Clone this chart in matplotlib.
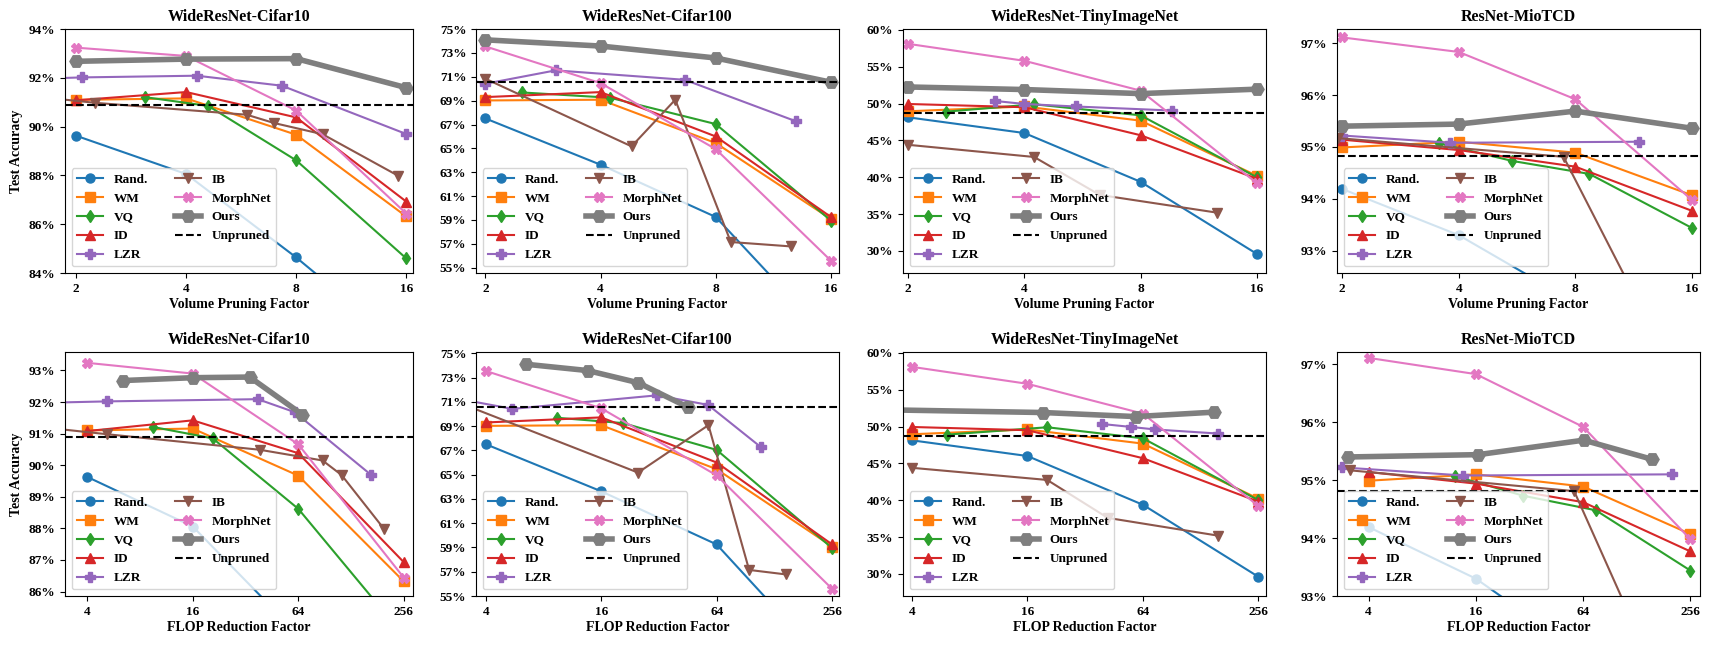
import matplotlib
matplotlib.use("Agg")
import matplotlib.pyplot as plt
from matplotlib.ticker import PercentFormatter, FixedLocator, FixedFormatter, NullLocator

METHODS = ["Rand.", "WM", "VQ", "ID", "LZR", "IB", "MorphNet", "Ours"]

# --- WideResNet-Cifar10 ---
C10_ACC = {
    "Rand.": [89.63, 88.06, 84.64, 80.9],
    "WM": [91.1, 91.16, 89.67, 86.32],
    "VQ": [91.21, 90.85, 88.62, 84.6],
    "ID": [91.08, 91.42, 90.38, 86.93],
    "LZR": [91.98, 92.02, 92.09, 91.68, 89.7],
    "IB": [91.17, 90.98, 90.49, 90.15, 89.69, 87.99],
    "MorphNet": [93.24, 92.9, 90.66, 86.44],
    "Ours": [92.68, 92.77, 92.79, 91.6],
}
C10_VOL = {
    "Rand.": [2, 4, 8, 16],
    "WM": [2, 4, 8, 16],
    "VQ": [3.09, 4.6, 8, 16],
    "ID": [2, 4, 8, 16],
    "LZR": [1.7, 2.07, 4.28, 7.31, 16],
    "IB": [1.7, 2.25, 5.86, 6.96, 9.45, 15.2],
    "MorphNet": [2, 4, 8, 16],
    "Ours": [2, 4, 8, 16],
}
C10_FLOP = {
    "Rand.": [4, 16, 64, 256],
    "WM": [4, 16, 64, 256],
    "VQ": [9.5, 20.8, 64, 256],
    "ID": [4, 16, 64, 256],
    "LZR": [2.5, 5.2, 37.6, 61, 166],
    "IB": [2.5, 5.2, 38.5, 88, 113, 197],
    "MorphNet": [4, 16, 64, 256],
    "Ours": [6.4, 16, 33.8, 67.6],
}
C10_UNPRUNED = 90.9

# --- WideResNet-Cifar100 ---
C100_ACC = {
    "Rand.": [67.51, 63.63, 59.25, 48.9],
    "WM": [69.02, 69.08, 65.45, 59.08],
    "VQ": [69.69, 69.25, 67.04, 58.95],
    "ID": [69.3, 69.72, 66.0, 59.25],
    "LZR": [71.2, 70.42, 71.54, 70.75, 67.26],
    "IB": [70.84, 65.17, 69.08, 57.15, 56.78],
    "MorphNet": [73.55, 70.47, 64.94, 55.59],
    "Ours": [74.1, 73.58, 72.58, 70.55],
}
C100_VOL = {
    "Rand.": [2, 4, 8, 16],
    "WM": [2, 4, 8, 16],
    "VQ": [2.49, 4.23, 8, 16],
    "ID": [2, 4, 8, 16],
    "LZR": [1.6, 2, 3.05, 6.64, 13.0],
    "IB": [2, 4.82, 6.27, 8.76, 12.6],
    "MorphNet": [2, 4, 8, 16],
    "Ours": [2, 4, 8, 16],
}
C100_FLOP = {
    "Rand.": [4, 16, 64, 256],
    "WM": [4, 16, 64, 256],
    "VQ": [9.4, 20.8, 64, 256],
    "ID": [4, 16, 64, 256],
    "LZR": [3.0, 5.5, 31.4, 57.7, 109],
    "IB": [3.0, 24.9, 58, 94.5, 147],
    "MorphNet": [4, 16, 64, 256],
    "Ours": [6.47, 13.6, 24.9, 45.5],
}
C100_UNPRUNED = 70.6

# --- WideResNet-TinyImageNet ---
TINY_ACC = {
    "Rand.": [48.13, 46.0, 39.38, 29.6],
    "WM": [48.95, 49.6, 47.68, 40.2],
    "VQ": [48.9, 49.9, 48.4, 40.0],
    "ID": [49.94, 49.5, 45.7, 39.8],
    "LZR": [50.35, 49.94, 49.6, 49.05],
    "IB": [44.4, 42.75, 37.6, 35.2],
    "MorphNet": [58.1, 55.8, 51.75, 39.2],
    "Ours": [52.25, 51.9, 51.35, 51.95],
}
TINY_VOL = {
    "Rand.": [2, 4, 8, 16],
    "WM": [2, 4, 8, 16],
    "VQ": [2.51, 4.24, 8, 16],
    "ID": [2, 4, 8, 16],
    "LZR": [3.36, 4, 5.43, 9.66],
    "IB": [2, 4.24, 6.27, 12.6],
    "MorphNet": [2, 4, 8, 16],
    "Ours": [2, 4, 8, 16],
}
TINY_FLOP = {
    "Rand.": [4, 16, 64, 256],
    "WM": [4, 16, 64, 256],
    "VQ": [6.1, 20.3, 64, 256],
    "ID": [4, 16, 64, 256],
    "LZR": [39, 55.7, 74, 157],
    "IB": [4, 20.3, 42, 157],
    "MorphNet": [4, 16, 64, 256],
    "Ours": [3.2, 19.3, 58.6, 150],
}
TINY_UNPRUNED = 48.67

# --- ResNet-MioTCD ---
MIO_ACC = {
    "Rand.": [94.19, 93.3, 92.0, 91.0],
    "WM": [94.99, 95.1, 94.89, 94.07],
    "VQ": [95.07, 94.73, 94.48, 93.44],
    "ID": [95.14, 94.94, 94.62, 93.77],
    "LZR": [95.22, 95.08, 95.1],
    "IB": [95.17, 94.81, 92.3],
    "MorphNet": [97.11, 96.83, 95.92, 93.98],
    "Ours": [95.4, 95.44, 95.69, 95.36],
}
MIO_VOL = {
    "Rand.": [2, 4, 8, 16],
    "WM": [2, 4, 8, 16],
    "VQ": [3.55, 5.5, 8.7, 16],
    "ID": [2, 4, 8, 16],
    "LZR": [2, 3.8, 11.7],
    "IB": [1.95, 7.46, 11.1],
    "MorphNet": [2, 4, 8, 16],
    "Ours": [2, 4, 8, 16],
}
MIO_FLOP = {
    "Rand.": [4, 16, 64, 256],
    "WM": [4, 16, 64, 256],
    "VQ": [12.2, 29.6, 75.4, 256],
    "ID": [4, 16, 64, 256],
    "LZR": [2.83, 13.6, 201],
    "IB": [3.13, 57, 132],
    "MorphNet": [4, 16, 64, 256],
    "Ours": [3.08, 16.5, 64.5, 156],
}
MIO_UNPRUNED = 94.82

TITLES = ["WideResNet-Cifar10", "WideResNet-Cifar100",
          "WideResNet-TinyImageNet", "ResNet-MioTCD"]
VOL_TICKS = [2, 4, 8, 16]
FLOP_TICKS = [4, 16, 64, 256]

COLORS = {"Rand.": "C0", "WM": "C1", "VQ": "C2", "ID": "C3",
          "LZR": "C4", "IB": "C5", "MorphNet": "C6", "Ours": "C7"}
MARKERS = {"Rand.": "o", "WM": "s", "VQ": "d", "ID": "^",
           "LZR": "P", "IB": "v", "MorphNet": "X", "Ours": "H"}

plt.rcParams["font.family"] = ["Liberation Serif", "DejaVu Serif"]
plt.rcParams["font.weight"] = "bold"
plt.rcParams["axes.titleweight"] = "bold"
plt.rcParams["axes.labelweight"] = "bold"

panels = [
    (C10_ACC, C10_VOL, C10_FLOP, C10_UNPRUNED),
    (C100_ACC, C100_VOL, C100_FLOP, C100_UNPRUNED),
    (TINY_ACC, TINY_VOL, TINY_FLOP, TINY_UNPRUNED),
    (MIO_ACC, MIO_VOL, MIO_FLOP, MIO_UNPRUNED),
]

# layout (figure fractions) and axis ranges per panel
lefts = [0.0378, 0.2766, 0.5247, 0.7769]
widths = [0.2022, 0.2109, 0.2109, 0.2109]
xlim_top = [(1.866, 16.7), (1.89, 16.8), (1.94, 16.9), (1.94, 16.8)]
xlim_bot = [(2.99, 289), (3.56, 278), (3.6, 280), (2.66, 290)]
ylim_top = [(84, 94), (54.55, 75), (27, 60.1), (92.57, 97.27)]
ylim_bot = [(85.86, 93.58), (55.0, 75.1), (27, 60.1), (93.0, 97.21)]
yt_top = [range(84, 95, 2), range(55, 76, 2), range(30, 61, 5), range(93, 98)]
yt_bot = [range(86, 94), range(55, 76, 2), range(30, 61, 5), range(93, 98)]

fig = plt.figure(figsize=(17.21, 6.47), dpi=100)

for i, (acc, vol, flop, unpr) in enumerate(panels):
    rows = [
        (vol, VOL_TICKS, "Volume Pruning Factor", 0.578, xlim_top[i], ylim_top[i], yt_top[i]),
        (flop, FLOP_TICKS, "FLOP Reduction Factor", 0.0788, xlim_bot[i], ylim_bot[i], yt_bot[i]),
    ]
    for xs, xt, xlabel, bottom, xl, yl, yt in rows:
        ax = fig.add_axes([lefts[i], bottom, widths[i], 0.377])
        for m in METHODS:
            if m == "Ours":
                ax.plot(xs[m], acc[m], color=COLORS[m], marker=MARKERS[m],
                        lw=4, ms=9.5, label=m)
            else:
                ax.plot(xs[m], acc[m], color=COLORS[m], marker=MARKERS[m],
                        lw=1.5, ms=6.5, label=m)
        ax.axhline(unpr, color="black", ls="--", lw=1.5, label="Unpruned")

        ax.set_xscale("log", base=2)
        ax.xaxis.set_major_locator(FixedLocator(xt))
        ax.xaxis.set_major_formatter(FixedFormatter([str(v) for v in xt]))
        ax.xaxis.set_minor_locator(NullLocator())
        ax.set_xlim(*xl)
        ax.set_ylim(*yl)
        ax.set_yticks(list(yt))
        ax.yaxis.set_major_formatter(PercentFormatter(decimals=0))
        ax.tick_params(labelsize=9.5)
        ax.set_xlabel(xlabel, fontsize=10, labelpad=2)
        if i == 0:
            ax.set_ylabel("Test Accuracy", fontsize=10)
        ax.set_title(TITLES[i], fontsize=11.5)
        ax.legend(ncol=2, loc="lower left", fontsize=9.5)

fig.savefig("out.png", dpi=100)
